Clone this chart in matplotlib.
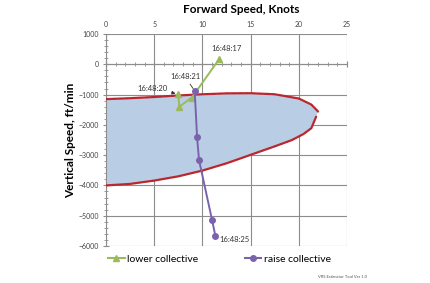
import matplotlib
matplotlib.use("Agg")
import matplotlib.pyplot as plt
from matplotlib.ticker import MultipleLocator
from matplotlib.lines import Line2D

plt.rcParams['font.family'] = ['Lato', 'DejaVu Sans']

# VRS boundary (upper and lower edges)
upper_x = [0, 2.5, 5, 7.5, 10, 12.5, 15, 17.5, 20, 21.3, 22.0]
upper_y = [-1150, -1120, -1080, -1030, -990, -960, -955, -990, -1130, -1330, -1560]
lower_x = [0, 2.5, 5, 7.5, 10, 12.5, 15, 17.5, 19.3, 20.5, 21.3, 21.8]
lower_y = [-4000, -3950, -3840, -3700, -3510, -3270, -2990, -2710, -2500, -2300, -2110, -1730]

# Series
lower_coll_x = [7.5, 7.6, 8.9, 11.75]
lower_coll_y = [-980, -1400, -1100, 175]
raise_coll_x = [9.2, 9.45, 9.65, 11.0, 11.35]
raise_coll_y = [-880, -2410, -3160, -5140, -5670]

series_names = ["lower collective", "raise collective"]
title = "Forward Speed, Knots"
ylabel = "Vertical Speed, ft/min"

green = '#9BBB59'
purple = '#7A63AC'
fill_c = '#B9CDE5'
red = '#C0282D'
grid_c = '#8C8C8C'

fig = plt.figure(figsize=(4.30, 2.83), dpi=100)
ax = fig.add_axes([106/430, 1-246/283, (347-106)/430, (246-34)/283])

ax.set_xlim(0, 25)
ax.set_ylim(-6000, 1000)

# fill boundary region
poly_x = upper_x + lower_x[::-1]
poly_y = upper_y + lower_y[::-1]
ax.fill(poly_x, poly_y, color=fill_c, zorder=1, lw=0)
ax.plot(upper_x, upper_y, color=red, lw=1.6, zorder=3, solid_capstyle='round')
ax.plot(lower_x, lower_y, color=red, lw=1.6, zorder=3, solid_capstyle='round')
ax.plot(upper_x, upper_y, color='#6A3050', lw=0.6, dashes=(3, 5), zorder=3, alpha=0.5)
ax.plot(lower_x, lower_y, color='#6A3050', lw=0.6, dashes=(3, 5), zorder=3, alpha=0.5)

# series
ax.plot(lower_coll_x, lower_coll_y, color=green, lw=1.4, marker='^', ms=4,
        zorder=5, label=series_names[0])
ax.plot(raise_coll_x, raise_coll_y, color=purple, lw=1.4, marker='o', ms=4,
        zorder=6, label=series_names[1])

# grid
ax.xaxis.set_major_locator(MultipleLocator(5))
ax.yaxis.set_major_locator(MultipleLocator(1000))
ax.xaxis.set_minor_locator(MultipleLocator(1))
ax.yaxis.set_minor_locator(MultipleLocator(200))
ax.grid(True, which='major', color=grid_c, lw=0.8, zorder=0)
ax.set_axisbelow(True)

for s in ['top', 'right']:
    ax.spines[s].set_visible(False)
ax.spines['bottom'].set_position(('data', 0))
ax.spines['bottom'].set_color(grid_c)
ax.spines['bottom'].set_linewidth(0.8)
ax.spines['left'].set_color(grid_c)
ax.spines['left'].set_linewidth(0.8)
ax.spines['bottom'].set_zorder(2)

ax.tick_params(axis='x', which='both', bottom=True, top=False, labelbottom=False,
               labeltop=True, direction='inout', color=grid_c, labelsize=5,
               labelcolor='#444444', pad=2)
ax.tick_params(axis='x', which='major', length=4)
ax.tick_params(axis='x', which='minor', length=3)
ax.tick_params(axis='y', which='both', left=True, direction='inout', color=grid_c,
               labelsize=5, labelcolor='#444444', pad=3)
ax.tick_params(axis='y', which='major', length=4)
ax.tick_params(axis='y', which='minor', length=2.5)

fig.text(0.56, 0.965, title, ha='center', va='center', fontsize=8.5, fontweight='bold')
ax.set_ylabel(ylabel, fontsize=8.5, fontweight='bold')
ax.yaxis.set_label_coords(-0.125, 0.5)

# annotations
ax.annotate("16:48:17", xy=(lower_coll_x[3], lower_coll_y[3]), xytext=(12.55, 505),
            ha='center', va='center', fontsize=5.5, color='#333333')
ax.annotate("16:48:21", xy=(raise_coll_x[0], raise_coll_y[0]), xytext=(8.2, -410),
            ha='center', va='center', fontsize=5.5, color='#333333',
            arrowprops=dict(arrowstyle='-', color='#333333', lw=0.6, shrinkA=1, shrinkB=2))
ax.annotate("16:48:20", xy=(lower_coll_x[0], lower_coll_y[0]), xytext=(4.82, -815),
            ha='center', va='center', fontsize=5.5, color='#333333',
            arrowprops=dict(arrowstyle='-|>', mutation_scale=5, color='#333333', lw=0.6,
                            shrinkA=1, shrinkB=2))
ax.annotate("16:48:25", xy=(raise_coll_x[4], raise_coll_y[4]), xytext=(11.75, -5770),
            ha='left', va='center', fontsize=5.5, color='#333333')

handles = [Line2D([], [], color=green, lw=1.5, marker='^', ms=4),
           Line2D([], [], color=purple, lw=1.5, marker='o', ms=4)]
fig.legend(handles, series_names, loc='center', bbox_to_anchor=(0.51, 0.085), ncol=2,
           frameon=False, fontsize=7.5, handlelength=1.6, handletextpad=0.2,
           columnspacing=4.5)

fig.text(0.797, 0.022, "VRS Estimator Tool Ver 1.0", ha='center', va='center',
         fontsize=3, color='#555555')

fig.savefig("out.png", dpi=100)
